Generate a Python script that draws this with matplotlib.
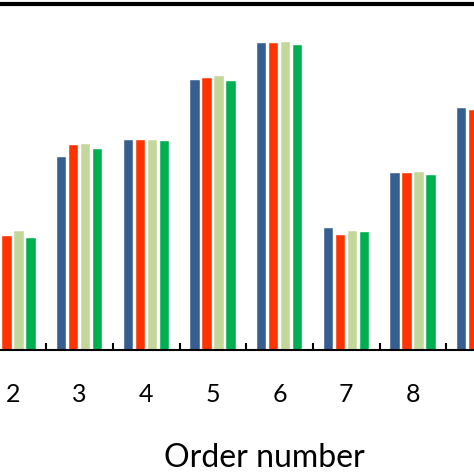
import numpy as np
import matplotlib.pyplot as plt

plt.rcParams['font.family'] = ['Lato', 'DejaVu Sans']

# bar heights (arbitrary units)
orders = [2, 3, 4, 5, 6, 7, 8, 9]
s1 = [1.18, 1.93, 2.10, 2.70, 3.07, 1.22, 1.77, 2.42]
s2 = [1.14, 2.05, 2.10, 2.72, 3.07, 1.15, 1.77, 2.40]
s3 = [1.19, 2.06, 2.10, 2.74, 3.08, 1.19, 1.78, 2.42]
s4 = [1.12, 2.01, 2.09, 2.69, 3.05, 1.18, 1.75, 2.38]
colors = ['#365F91', '#FF3300', '#C4D79B', '#00B050']

fig = plt.figure(figsize=(4.74, 4.74), dpi=100)
ax = fig.add_axes([0, 124/474, 1, 346.5/474])

x = np.array(orders, dtype=float)
step = 0.18
w = 0.142
for i, (vals, c) in enumerate(zip([s1, s2, s3, s4], colors)):
    ax.bar(x + (i - 1.5) * step, vals, width=w, color=c, edgecolor='white', linewidth=0.3)

ax.spines['left'].set_visible(False)
ax.spines['right'].set_visible(False)
ax.spines['top'].set_linewidth(3)
ax.spines['bottom'].set_linewidth(1.5)
ax.set_yticks([])

ax.set_xticks(x)
ax.set_xticklabels([str(o) for o in orders], fontsize=18)
ax.tick_params(axis='x', which='major', length=0, pad=24)
ax.set_xticks(x + 0.5, minor=True)
ax.tick_params(axis='x', which='minor', direction='in', length=5, width=1.5)

# crop the view like the reference picture
ax.set_xlim(2 - 13/66.67, 2 + 461/66.67)
ax.set_ylim(0, 3.465)

fig.text(264/474, 16/474, 'Order number', ha='center', va='center', fontsize=23)

fig.savefig('out.png', dpi=100)
